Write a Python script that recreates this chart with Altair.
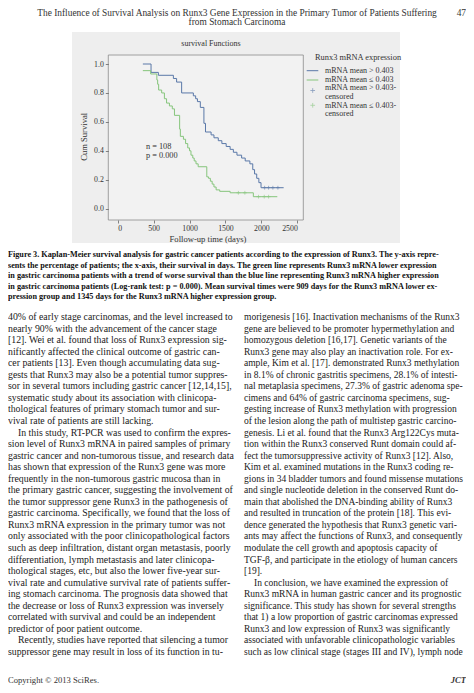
import altair as alt
import pandas as pd

W, H = 458, 677
FONT = "Liberation Serif"

# ---------------- Kaplan-Meier data (days, cumulative survival) ----------------
blue_t = [350, 464, 566, 775, 820, 890, 1053, 1085, 1110, 1150, 1200, 1222, 1300, 1340,
          1400, 1450, 1510, 1565, 1610, 1660, 1725, 1775, 1840, 1880, 1905, 1935, 1965,
          1995, 2310]
blue_s = [1.0, 0.942, 0.922, 0.90, 0.875, 0.80, 0.78, 0.76, 0.74, 0.70, 0.59, 0.53, 0.51,
          0.49, 0.47, 0.45, 0.43, 0.41, 0.39, 0.37, 0.35, 0.33, 0.31, 0.27, 0.24, 0.21,
          0.18, 0.145, 0.145]
blue_cens_t = [2045, 2100, 2160, 2230]
blue_cens_s = [0.145, 0.145, 0.145, 0.145]

green_t = [350, 459, 545, 556, 570, 612, 650, 680, 720, 760, 790, 862, 872, 915, 945,
           975, 1000, 1020, 1045, 1065, 1090, 1120, 1240, 1265, 1290, 1315, 1340, 1370,
           1420, 1565, 1888, 2222]
green_s = [0.954, 0.931, 0.89, 0.86, 0.82, 0.80, 0.76, 0.73, 0.71, 0.69, 0.645, 0.55,
           0.50, 0.48, 0.45, 0.42, 0.40, 0.37, 0.35, 0.33, 0.31, 0.29, 0.22, 0.21, 0.19,
           0.17, 0.15, 0.13, 0.12, 0.11, 0.083, 0.083]
green_cens_t = [1680, 1770, 1960, 2040, 2100]
green_cens_s = [0.11, 0.11, 0.083, 0.083, 0.083]

groups = ["mRNA mean > 0.403", "mRNA mean \u2264 0.403"]
colors = ["#5a78a8", "#86c57c"]
x_ticks = [0, 500, 1000, 1500, 2000, 2500]
y_ticks = [0.0, 0.2, 0.4, 0.6, 0.8, 1.0]

# ---------------- page text ----------------
header_lines = [
    "The Influence of Survival Analysis on Runx3 Gene Expression in the Primary Tumor of Patients Suffering",
    "from Stomach Carcinoma",
]
page_number = "47"
caption_lines = [
    "Figure 3. Kaplan-Meier survival analysis for gastric cancer patients according to the expression of Runx3. The y-axis repre-",
    "sents the percentage of patients; the x-axis, their survival in days. The green line represents Runx3 mRNA lower expression",
    "in gastric carcinoma patients with a trend of worse survival than the blue line representing Runx3 mRNA higher expression",
    "in gastric carcinoma patients (Log-rank test: p = 0.000). Mean survival times were 909 days for the Runx3 mRNA lower ex-",
    "pression group and 1345 days for the Runx3 mRNA higher expression group.",
]
left_lines = [
    "40% of early stage carcinomas, and the level increased to",
    "nearly 90% with the advancement of the cancer stage",
    "[12]. Wei et al. found that loss of Runx3 expression sig-",
    "nificantly affected the clinical outcome of gastric can-",
    "cer patients [13]. Even though accumulating data sug-",
    "gests that Runx3 may also be a potential tumor suppres-",
    "sor in several tumors including gastric cancer [12,14,15],",
    "systematic study about its association with clinicopa-",
    "thological features of primary stomach tumor and sur-",
    "vival rate of patients are still lacking.",
    "In this study, RT-PCR was used to confirm the expres-",
    "sion level of Runx3 mRNA in paired samples of primary",
    "gastric cancer and non-tumorous tissue, and research data",
    "has shown that expression of the Runx3 gene was more",
    "frequently in the non-tumorous gastric mucosa than in",
    "the primary gastric cancer, suggesting the involvement of",
    "the tumor suppressor gene Runx3 in the pathogenesis of",
    "gastric carcinoma. Specifically, we found that the loss of",
    "Runx3 mRNA expression in the primary tumor was not",
    "only associated with the poor clinicopathological factors",
    "such as deep infiltration, distant organ metastasis, poorly",
    "differentiation, lymph metastasis and later clinicopa-",
    "thological stages, etc, but also the lower five-year sur-",
    "vival rate and cumulative survival rate of patients suffer-",
    "ing stomach carcinoma. The prognosis data showed that",
    "the decrease or loss of Runx3 expression was inversely",
    "correlated with survival and could be an independent",
    "predictor of poor patient outcome.",
    "Recently, studies have reported that silencing a tumor",
    "suppressor gene may result in loss of its function in tu-",
]
left_indent = [10, 28]  # paragraph-first lines
right_lines = [
    "morigenesis [16]. Inactivation mechanisms of the Runx3",
    "gene are believed to be promoter hypermethylation and",
    "homozygous deletion [16,17]. Genetic variants of the",
    "Runx3 gene may also play an inactivation role. For ex-",
    "ample, Kim et al. [17]. demonstrated Runx3 methylation",
    "in 8.1% of chronic gastritis specimens, 28.1% of intesti-",
    "nal metaplasia specimens, 27.3% of gastric adenoma spe-",
    "cimens and 64% of gastric carcinoma specimens, sug-",
    "gesting increase of Runx3 methylation with progression",
    "of the lesion along the path of multistep gastric carcino-",
    "genesis. Li et al. found that the Runx3 Arg122Cys muta-",
    "tion within the Runx3 conserved Runt domain could af-",
    "fect the tumorsuppressive activity of Runx3 [12]. Also,",
    "Kim et al. examined mutations in the Runx3 coding re-",
    "gions in 34 bladder tumors and found missense mutations",
    "and single nucleotide deletion in the conserved Runt do-",
    "main that abolished the DNA-binding ability of Runx3",
    "and resulted in truncation of the protein [18]. This evi-",
    "dence generated the hypothesis that Runx3 genetic vari-",
    "ants may affect the functions of Runx3, and consequently",
    "modulate the cell growth and apoptosis capacity of",
    "TGF-\u03b2, and participate in the etiology of human cancers",
    "[19].",
    "In conclusion, we have examined the expression of",
    "Runx3 mRNA in human gastric cancer and its prognostic",
    "significance. This study has shown for several strengths",
    "that 1) a low proportion of gastric carcinomas expressed",
    "Runx3 and low expression of Runx3 was significantly",
    "associated with unfavorable clinicopathologic variables",
    "such as low clinical stage (stages III and IV), lymph node",
]
right_indent = [23]
footer_left = "Copyright \u00a9 2013 SciRes."
footer_right = "JCT"

legend_title = "Runx3 mRNA expression"
legend_labels = ["mRNA mean > 0.403", "mRNA mean \u2264 0.403",
                 "mRNA mean > 0.403-", "censored", "mRNA mean \u2264 0.403-", "censored"]
stats_lines = ["n = 108", "p = 0.000"]
chart_title = "survival Functions"


# ---------------- helpers ----------------
def pxx():
    return alt.X("x:Q", scale=alt.Scale(domain=[0, W], range=[0, W], nice=False, zero=False), axis=None)


def pxy(field="y"):
    return alt.Y(f"{field}:Q", scale=alt.Scale(domain=[0, H], range=[0, H], nice=False, zero=False), axis=None)


def text_layer(texts, xs, ys, size, weight="normal", align="left", color="#1a1a1a", style="normal"):
    df = pd.DataFrame({"text": texts, "x": xs, "y": ys})
    return alt.Chart(df).mark_text(font=FONT, fontSize=size, fontWeight=weight, fontStyle=style,
                                   align=align, baseline="middle", color=color).encode(
        x=pxx(), y=pxy(), text="text:N")


# ---------------- figure background & frame ----------------
bg = alt.Chart(pd.DataFrame({"x": [64], "x2": [392], "y": [24], "y2": [235]})).mark_rect(
    fill="#eeeeee").encode(x=pxx(), x2="x2:Q", y=pxy(), y2="y2:Q")
frame = alt.Chart(pd.DataFrame({"x": [100.3], "x2": [295.3], "y": [47], "y2": [212]})).mark_rect(
    fill="#f2f2f2", stroke="#8c8c8c", strokeWidth=0.8).encode(x=pxx(), x2="x2:Q", y=pxy(), y2="y2:Q")

# ---------------- KM curves ----------------
xs = alt.Scale(domain=[0, 2500], range=[109.7, 289.3], nice=False, zero=False)
ys = alt.Scale(domain=[0, 1], range=[200.7, 56], nice=False, zero=False)
cs = alt.Scale(domain=groups, range=colors)

km = pd.concat([
    pd.DataFrame({"t": blue_t, "s": blue_s, "g": groups[0]}),
    pd.DataFrame({"t": green_t, "s": green_s, "g": groups[1]}),
])
cens = pd.concat([
    pd.DataFrame({"t": blue_cens_t, "s": blue_cens_s, "g": groups[0]}),
    pd.DataFrame({"t": green_cens_t, "s": green_cens_s, "g": groups[1]}),
])

axis_common = dict(labelFont=FONT, labelFontSize=7.8, labelColor="#333333", titleFont=FONT,
                   titleFontSize=8.6, titleFontWeight="normal", titleColor="#333333",
                   domain=False, grid=False, tickSize=3, tickColor="#666666", tickWidth=0.8,
                   zindex=2)

lines = alt.Chart(km).mark_line(interpolate="step-after", strokeWidth=1).encode(
    x=alt.X("t:Q", scale=xs, axis=alt.Axis(orient="bottom", offset=-(H - 212), values=x_ticks,
                                           format="d", title="Follow-up time (days)",
                                           labelPadding=1, titlePadding=3, **axis_common)),
    y=alt.Y("s:Q", scale=ys, axis=alt.Axis(orient="left", offset=-100.3, values=y_ticks,
                                           format=".1f", title="Cum Survival",
                                           labelPadding=2, titlePadding=5, **axis_common)),
    color=alt.Color("g:N", scale=cs, legend=None),
)

cross = "M-1,0L1,0M0,-1L0,1"
cens_pts = alt.Chart(cens).mark_point(shape=cross, filled=False, size=14, strokeWidth=0.8).encode(
    x=alt.X("t:Q", scale=xs, axis=None),
    y=alt.Y("s:Q", scale=ys, axis=None),
    color=alt.Color("g:N", scale=cs, legend=None),
)

# ---------------- legend ----------------
leg_lines = alt.Chart(pd.DataFrame({"x": [298.7, 298.7], "x2": [310.3, 310.3], "y": [62.7, 72],
                                    "g": groups})).mark_rule(strokeWidth=1).encode(
    x=pxx(), x2="x2:Q", y=pxy(), color=alt.Color("g:N", scale=cs, legend=None))
leg_cross = alt.Chart(pd.DataFrame({"x": [304.7, 304.7], "y": [82.5, 97.3], "g": groups})).mark_point(
    shape=cross, filled=False, size=22, strokeWidth=0.8).encode(
    x=pxx(), y=pxy(), color=alt.Color("g:N", scale=cs, legend=None))

legend_title_t = text_layer([legend_title], [307], [48.7], 8.4, color="#333333")
legend_text = text_layer(legend_labels, [317] * 6, [62.5, 71.7, 80.2, 88.6, 97.6, 106.1], 8.0,
                         color="#333333")
stats_text = text_layer(stats_lines, [138, 138], [138.7, 148], 8.3, color="#333333")
title_text = text_layer([chart_title], [203], [36], 8.0, align="center", color="#333333")

# ---------------- page text ----------------
header = text_layer(header_lines, [229, 229], [4.8, 14.0], 9.4, align="center", color="#333333")
pnum = text_layer([page_number], [458], [4.8], 9.4, align="right", color="#333333")
caption = text_layer(caption_lines, [0] * 5, [247, 257.6, 268, 278.6, 289.2], 8.2, weight="bold",
                     color="#111111")
LS = 11.55
left_x = [10 if i in left_indent else 0 for i in range(len(left_lines))]
left = text_layer(left_lines, left_x, [309 + i * LS for i in range(len(left_lines))],
                  9.8, color="#1a1a1a")
right_x = [246 if i in right_indent else 236 for i in range(len(right_lines))]
right = text_layer(right_lines, right_x,
                   [309 + i * LS for i in range(len(right_lines))], 9.5, color="#1a1a1a")
foot_l = text_layer([footer_left], [0], [671.5], 8.6, color="#333333")
foot_r = text_layer([footer_right], [458], [671.5], 8.6, weight="bold", align="right",
                    style="italic", color="#333333")

chart = alt.layer(
    bg, frame, lines, cens_pts, leg_lines, leg_cross, legend_title_t, legend_text, stats_text,
    title_text, header, pnum, caption, left, right, foot_l, foot_r,
).resolve_scale(x="independent", y="independent", color="shared").properties(
    width=W, height=H, autosize=alt.AutoSizeParams(type="none"), padding=0,
    background="white",
).configure_view(stroke=None)

chart.save("out.html", embed_options={"renderer": "svg", "actions": False})
